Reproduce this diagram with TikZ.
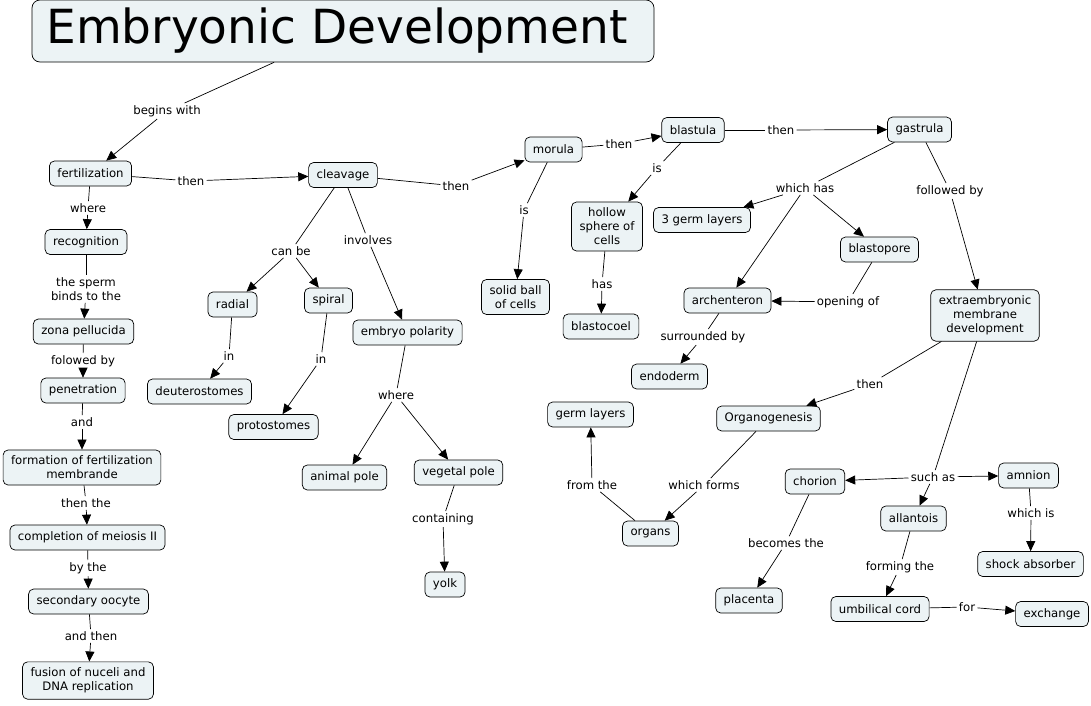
\documentclass[tikz,border=0pt]{standalone}
\usepackage{fontspec}
\setmainfont{DejaVu Sans}
\usetikzlibrary{arrows.meta}
\definecolor{cmapfill}{RGB}{236,243,245}

\begin{document}
\begin{tikzpicture}[
    x=1pt, y=-1pt, line width=0.7pt,
    font=\fontsize{11.7}{14}\selectfont,
    box/.style={rectangle, draw, rounded corners=5pt, fill=cmapfill, inner xsep=8pt, inner ysep=6pt, minimum height=25pt, align=center},
    link/.style={inner sep=2pt, align=center},
    arrow/.style={-{Triangle[length=10pt,width=9pt]}}
]
\useasboundingbox (0,0) rectangle (1091,705);
% Title
\node[box, font=\fontsize{47}{56}\selectfont, minimum width=622pt, minimum height=62pt, rounded corners=8pt] (title) at (343,31) {Embryonic Development\hspace{12pt}};
% Fertilization steps
\node[box] (fert) at (90.5,173.5) {fertilization};
\node[box] (recog) at (86,242) {recognition};
\node[box] (zona) at (83.5,331.5) {zona pellucida};
\node[box] (penet) at (83,390.5) {penetration};
\node[box] (formation) at (82,467.5) {formation of fertilization\\membrande};
\node[box] (meiosis) at (87.5,537.5) {completion of meiosis II};
\node[box] (oocyte) at (88.5,601.5) {secondary oocyte};
\node[box] (fusion) at (88,680.5) {fusion of nuceli and\\DNA replication};
% Cleavage
\node[box] (cleav) at (343,175) {cleavage};
\node[box] (radial) at (232.5,304.5) {radial};
\node[box] (spiral) at (328.5,300.5) {spiral};
\node[box] (deut) at (199.5,391.5) {deuterostomes};
\node[box] (proto) at (273.5,427) {protostomes};
\node[box] (polarity) at (407.5,332.5) {embryo polarity};
\node[box] (animal) at (344.5,477.5) {animal pole};
\node[box] (vegetal) at (458.5,472.5) {vegetal pole};
\node[box] (yolk) at (445,584.5) {yolk};
% Morula and blastula
\node[box] (morula) at (553.5,149.5) {morula};
\node[box] (solid) at (515.5,297) {solid ball\\of cells};
\node[box] (blastula) at (693,130) {blastula};
\node[box] (hollow) at (607,226.5) {hollow\\sphere of\\cells};
\node[box] (blastocoel) at (601,326.5) {blastocoel};
% Gastrula
\node[box] (gastrula) at (919.5,129.5) {gastrula};
\node[box] (germ3) at (702,220) {3 germ layers};
\node[box] (archen) at (727.5,300.5) {archenteron};
\node[box] (endo) at (669.5,376.5) {endoderm};
\node[box] (blastopore) at (879.5,249.5) {blastopore};
% Membranes and organs
\node[box] (extra) at (985,315.5) {extraembryonic\\membrane\\development};
\node[box] (organo) at (768.5,418.5) {Organogenesis};
\node[box] (organs) at (650.5,533.5) {organs};
\node[box] (germ) at (590.5,414.5) {germ layers};
\node[box] (chorion) at (815,481.5) {chorion};
\node[box] (placenta) at (749,600.5) {placenta};
\node[box] (amnion) at (1028.5,475.5) {amnion};
\node[box] (shock) at (1030.5,564) {shock absorber};
\node[box] (allantois) at (913.5,518.5) {allantois};
\node[box] (umbil) at (880,609) {umbilical cord};
\node[box] (exchange) at (1052,614) {exchange};
% Linking phrases
\node[link] (lBegins) at (167,111) {begins with};
\node[link] (lWhere) at (88,208) {where};
\node[link] (lSperm) at (86,289) {the sperm\\binds to the};
\node[link] (lFolowed) at (83,361) {folowed by};
\node[link] (lAnd) at (82,422) {and};
\node[link] (lThenThe) at (86,503) {then the};
\node[link] (lByThe) at (88,568) {by the};
\node[link] (lAndThen) at (91,636) {and then};
\node[link] (lThenA) at (191,181) {then};
\node[link] (lCanBe) at (291,251) {can be};
\node[link] (lInvolves) at (368,240) {involves};
\node[link] (lInA) at (229,356) {in};
\node[link] (lInB) at (321,359) {in};
\node[link] (lWhereB) at (396,395) {where};
\node[link] (lContain) at (443,519) {containing};
\node[link] (lThenB) at (456,186) {then};
\node[link] (lIsA) at (524,210) {is};
\node[link] (lThenC) at (619,144) {then};
\node[link] (lIsB) at (657,168) {is};
\node[link] (lHas) at (602,284) {has};
\node[link] (lThenD) at (781,130) {then};
\node[link] (lWhichHas) at (805,188) {which has};
\node[link] (lFollowed) at (950,191) {followed by};
\node[link] (lOpening) at (848,302) {opening of};
\node[link] (lSurround) at (703,337) {surrounded by};
\node[link] (lThenE) at (870,384) {then};
\node[link] (lSuchAs) at (933,477) {such as};
\node[link] (lWhichIs) at (1031,513) {which is};
\node[link] (lForming) at (900,567) {forming the};
\node[link] (lFor) at (967,607) {for};
\node[link] (lBecomes) at (786,543) {becomes the};
\node[link] (lFromThe) at (592,485) {from the};
\node[link] (lForms) at (704,485) {which forms};
% Links, left column
\draw (title) -- (lBegins);
\draw[arrow] (lBegins) -- (fert);
\draw (fert) -- (lWhere);
\draw[arrow] (lWhere) -- (recog);
\draw (recog) -- (lSperm);
\draw[arrow] (lSperm) -- (zona);
\draw (zona) -- (lFolowed);
\draw[arrow] (lFolowed) -- (penet);
\draw (penet) -- (lAnd);
\draw[arrow] (lAnd) -- (formation);
\draw (formation) -- (lThenThe);
\draw[arrow] (lThenThe) -- (meiosis);
\draw (meiosis) -- (lByThe);
\draw[arrow] (lByThe) -- (oocyte);
\draw (oocyte) -- (lAndThen);
\draw[arrow] (lAndThen) -- (fusion);
% Links, cleavage
\draw (fert) -- (lThenA);
\draw[arrow] (lThenA) -- (cleav);
\draw (cleav) -- (lCanBe);
\draw[arrow] (lCanBe) -- (radial);
\draw[arrow] (lCanBe) -- (spiral);
\draw (radial) -- (lInA);
\draw[arrow] (lInA) -- (deut);
\draw (spiral) -- (lInB);
\draw[arrow] (lInB) -- (proto);
\draw (cleav) -- (lInvolves);
\draw[arrow] (lInvolves) -- (polarity);
\draw (polarity) -- (lWhereB);
\draw[arrow] (lWhereB) -- (animal);
\draw[arrow] (lWhereB) -- (vegetal);
\draw (vegetal) -- (lContain);
\draw[arrow] (lContain) -- (yolk);
% Links, morula and blastula
\draw (cleav) -- (lThenB);
\draw[arrow] (lThenB) -- (morula);
\draw (morula) -- (lIsA);
\draw[arrow] (lIsA) -- (solid);
\draw (morula) -- (lThenC);
\draw[arrow] (lThenC) -- (blastula);
\draw (blastula) -- (lIsB);
\draw[arrow] (lIsB) -- (hollow);
\draw (hollow) -- (lHas);
\draw[arrow] (lHas) -- (blastocoel);
% Links, gastrula
\draw (blastula) -- (lThenD);
\draw[arrow] (lThenD) -- (gastrula);
\draw (gastrula) -- (lWhichHas);
\draw[arrow] (lWhichHas) -- (germ3);
\draw[arrow] (lWhichHas) -- (archen);
\draw[arrow] (lWhichHas) -- (blastopore);
\draw (blastopore) -- (lOpening);
\draw[arrow] (lOpening) -- (archen);
\draw (archen) -- (lSurround);
\draw[arrow] (lSurround) -- (endo);
\draw (gastrula) -- (lFollowed);
\draw[arrow] (lFollowed) -- (extra);
% Links, membranes and organs
\draw (extra) -- (lThenE);
\draw[arrow] (lThenE) -- (organo);
\draw (organo) -- (lForms);
\draw[arrow] (lForms) -- (organs);
\draw (organs) -- (lFromThe);
\draw[arrow] (lFromThe) -- (germ);
\draw (extra) -- (lSuchAs);
\draw[arrow] (lSuchAs) -- (chorion);
\draw[arrow] (lSuchAs) -- (allantois);
\draw[arrow] (lSuchAs) -- (amnion);
\draw (chorion) -- (lBecomes);
\draw[arrow] (lBecomes) -- (placenta);
\draw (amnion) -- (lWhichIs);
\draw[arrow] (lWhichIs) -- (shock);
\draw (allantois) -- (lForming);
\draw[arrow] (lForming) -- (umbil);
\draw (umbil) -- (lFor);
\draw[arrow] (lFor) -- (exchange);
\end{tikzpicture}
\end{document}
